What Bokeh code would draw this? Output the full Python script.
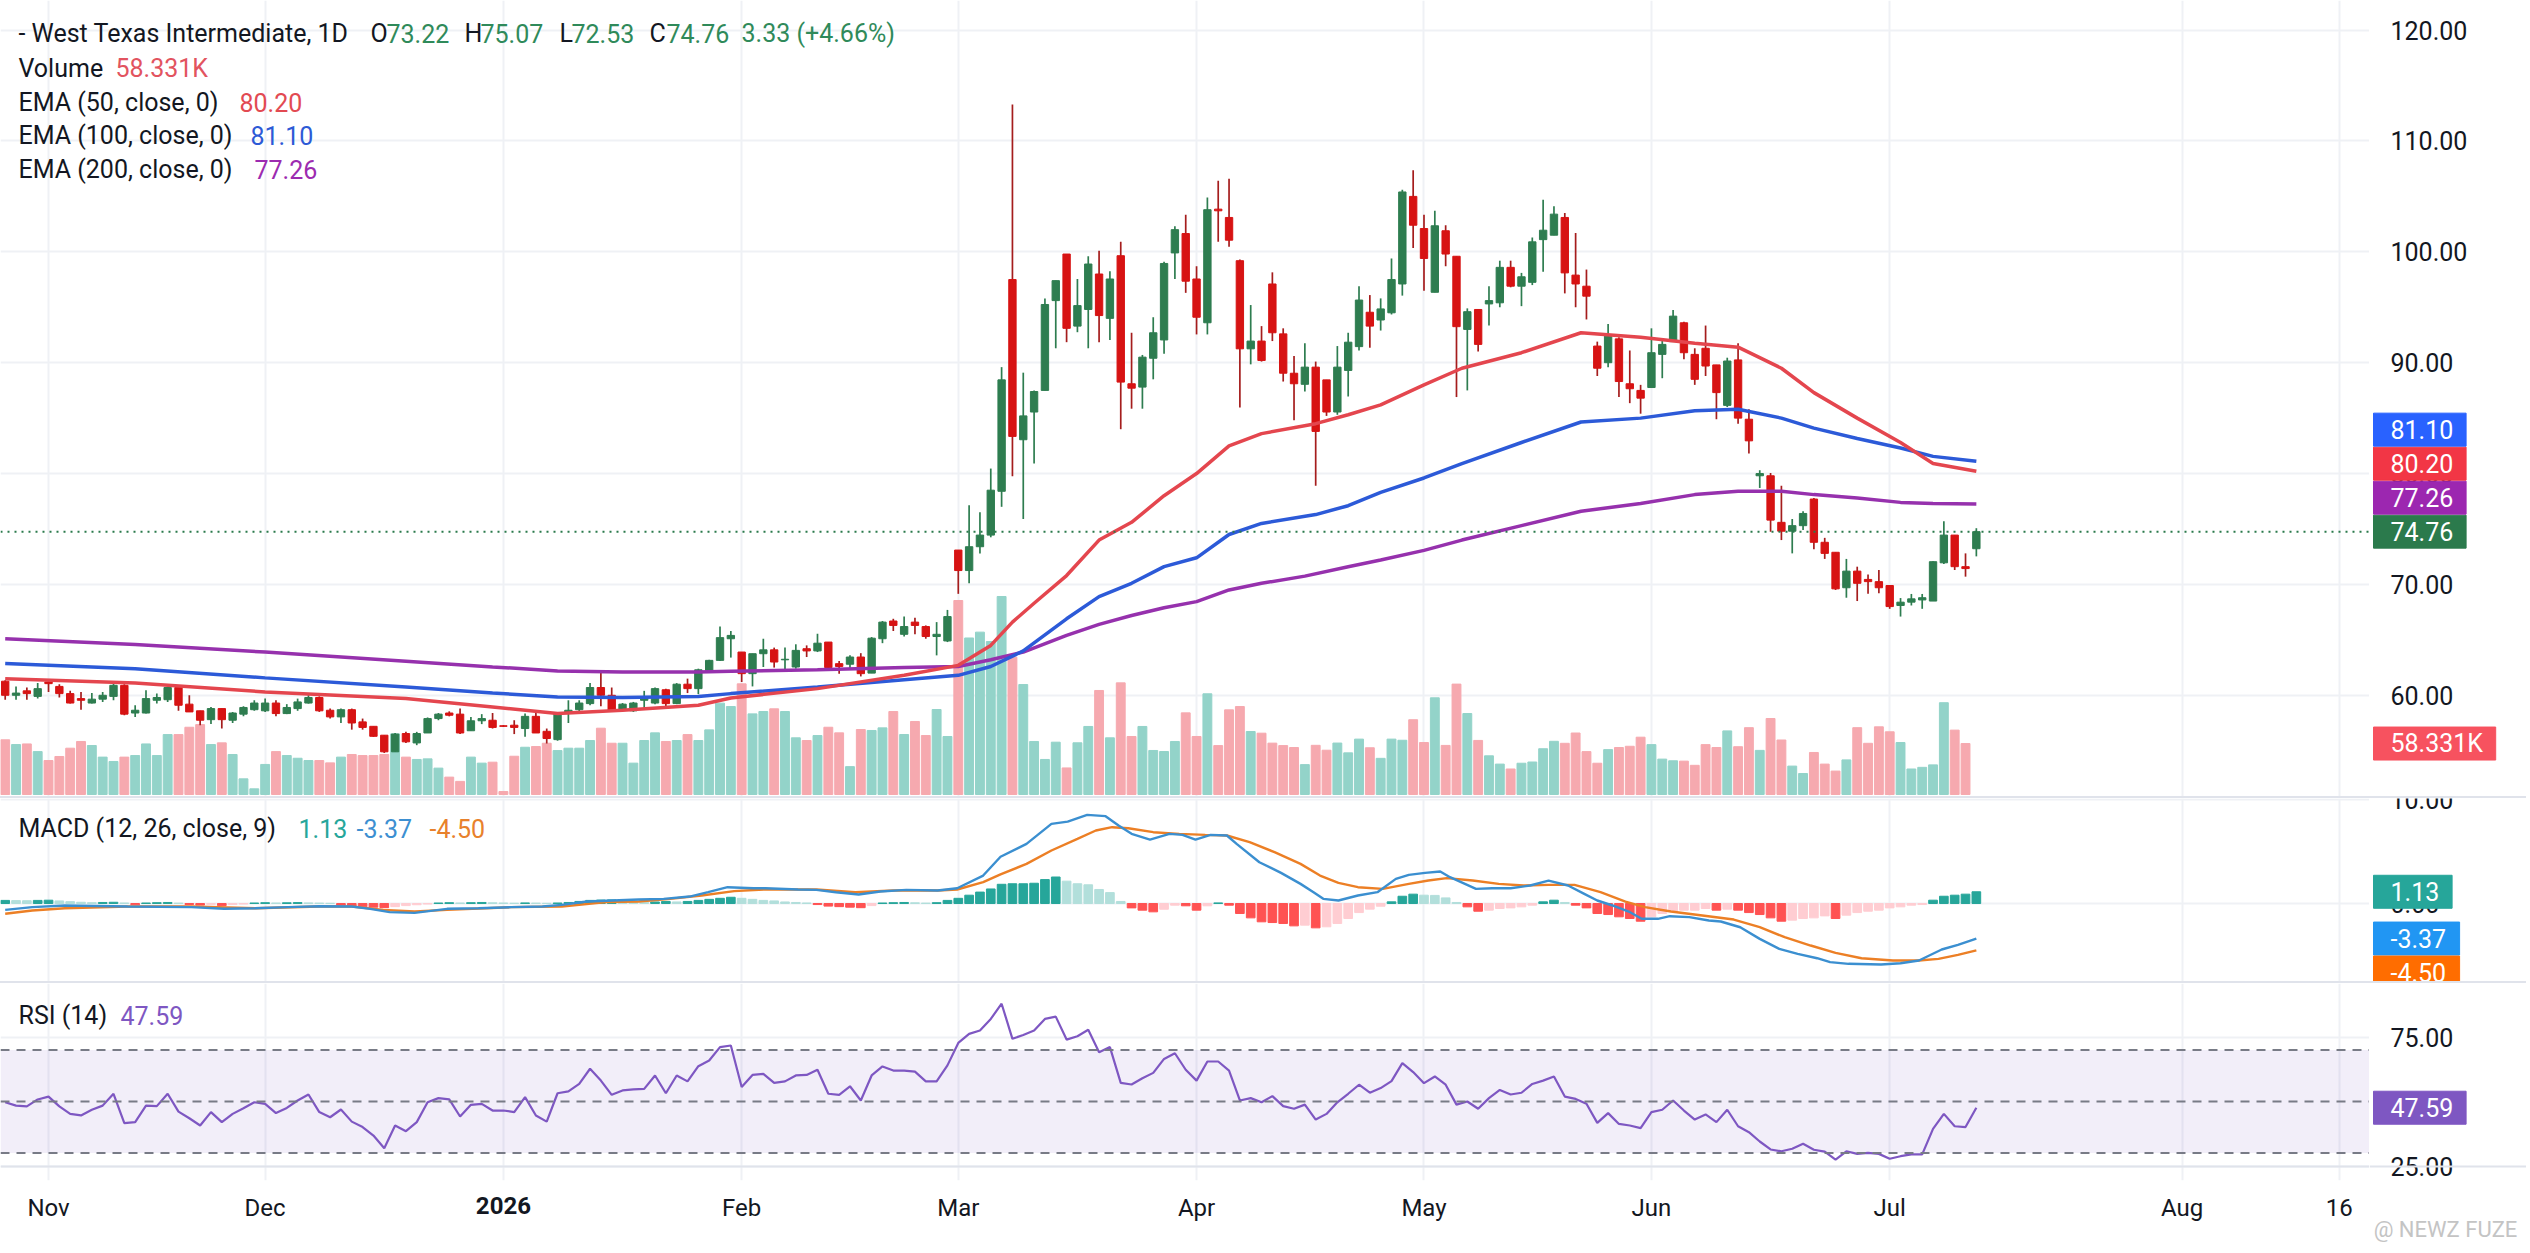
from bokeh.plotting import figure
from bokeh.layouts import column, row
from bokeh.models import (ColumnDataSource, Range1d, FixedTicker, Grid, Label, Span,
                          BoxAnnotation, Div, LinearAxis)
from bokeh.core.properties import value
from bokeh.embed import file_html
from bokeh.resources import INLINE

# ------------------------------------------------------------------ data
opens = [61.27,60.0,60.4,59.9,61.2,60.8,60.15,59.7,59.3,59.65,
         59.9,60.9,58.4,58.4,59.55,59.6,60.7,59.2,58.6,57.8,
         58.8,57.75,58.3,58.7,58.6,59.3,58.35,58.8,59.3,59.8,
         58.65,58.05,58.7,57.6,57.2,56.4,54.9,56.55,55.7,56.6,
         57.9,58.4,58.3,56.8,57.7,57.75,57.25,57.3,57.0,58.1,
         56.75,56.0,58.4,58.7,59.25,60.7,60.0,58.7,58.6,59.55,
         59.3,60.5,59.25,61.0,60.6,62.25,63.15,65.1,63.9,61.95,
         63.75,64.1,63.2,62.55,64.2,64.0,64.8,62.85,62.8,63.45,
         62.0,65.1,66.7,65.5,66.6,66.2,65.3,64.9,73.1,71.25,
         73.4,74.45,78.4,97.5,83.05,85.55,87.5,95.6,99.8,93.3,
         94.8,98.0,94.0,99.65,88.1,87.8,90.4,92.05,99.9,101.65,
         97.55,93.6,103.85,103.1,99.2,91.25,91.95,97.1,92.6,89.05,
         88.05,89.6,88.45,85.55,89.3,91.45,94.55,93.85,94.5,97.1,
         105.0,102.1,96.35,101.9,99.6,93.0,94.8,95.3,95.4,98.6,
         96.9,97.25,101.1,101.5,103.1,97.9,96.9,91.5,90.0,92.15,
         88.1,87.5,87.76,90.75,91.9,93.6,90.75,91.3,89.8,86.15,
         90.25,84.9,79.8,79.8,75.6,74.8,75.3,77.7,73.8,72.9,
         69.7,71.2,70.45,70.25,69.9,68.1,68.4,68.6,68.5,71.95,
         74.45,71.6,73.22]
highs = [61.35,60.8,60.7,61.1,61.35,61.0,60.4,60.3,60.2,60.3,
         61.1,61.0,59.1,60.45,60.15,60.8,60.7,60.0,58.6,58.95,
         58.8,58.5,59.0,59.55,59.7,59.55,59.2,59.7,60.1,59.9,
         58.8,58.8,58.8,57.9,57.2,56.4,56.6,56.7,56.7,58.0,
         58.4,58.55,58.8,58.05,58.3,58.4,57.3,57.75,58.35,58.65,
         57.0,58.4,59.55,59.55,61.1,62.1,60.7,59.3,59.4,60.4,
         60.7,60.6,61.1,61.5,62.4,63.2,66.2,65.8,63.9,63.75,
         65.1,64.3,64.3,64.6,64.5,65.55,64.8,63.1,63.6,63.8,
         65.25,66.7,66.9,67.1,67.0,66.3,66.6,67.7,73.1,77.15,
         76.5,80.45,89.6,113.3,89.1,87.5,95.8,97.4,99.8,97.55,
         99.6,100.1,98.25,100.9,92.7,90.7,94.1,99.1,102.3,103.35,
         98.7,104.9,106.4,106.6,99.3,95.2,93.3,98.15,93.1,90.6,
         91.75,90.1,88.45,91.5,92.7,96.9,96.1,95.8,99.4,105.6,
         107.35,103.35,103.7,102.4,99.6,94.9,94.8,96.9,99.2,99.2,
         98.1,101.3,104.7,104.1,103.5,101.7,98.4,91.9,93.5,92.3,
         91.1,88.0,93.1,92.1,94.75,93.7,91.3,93.35,89.8,90.45,
         91.75,85.8,80.3,80.05,78.9,75.9,76.6,77.8,74.2,72.9,
         72.3,71.6,70.9,71.3,69.95,68.77,69.14,69.14,72.1,75.7,
         74.45,72.8,75.07]
lows = [59.6,59.6,59.6,59.7,60.3,59.8,59.25,58.7,59.25,59.4,
        59.55,58.2,58.05,58.35,59.25,59.4,58.6,58.5,57.3,57.4,
        57.0,57.5,58.1,58.6,58.5,58.1,58.3,58.6,59.25,58.5,
        57.9,57.5,56.9,56.9,56.25,54.8,54.9,55.7,55.5,56.6,
        57.75,58.1,56.5,56.8,57.4,57.0,57.15,56.5,56.25,56.6,
        55.65,55.9,57.5,58.35,59.1,59.0,58.65,58.65,58.5,58.8,
        59.2,58.9,59.2,60.2,60.1,62.2,63.1,63.4,61.2,60.8,
        62.55,62.5,62.2,62.4,63.45,63.9,62.25,61.95,62.3,61.7,
        62.0,64.7,65.8,65.3,65.5,65.1,63.6,64.8,69.15,70.1,
        72.8,74.25,77.0,79.75,75.9,80.9,87.5,91.3,91.85,92.75,
        91.3,91.85,92.05,84.0,85.85,85.85,88.5,90.8,97.55,96.3,
        92.55,92.55,100.9,100.45,85.95,89.85,90.1,91.95,88.3,84.8,
        87.4,78.9,85.2,85.3,86.95,91.1,91.35,92.9,94.35,96.05,
        100.35,96.5,96.35,98.7,86.9,87.5,91.0,93.35,95.0,96.8,
        95.1,97.0,98.2,101.5,96.25,95.0,93.9,88.8,89.6,86.9,
        86.35,85.4,87.76,88.6,91.9,90.3,88.0,88.8,84.9,86.0,
        84.5,81.8,78.7,74.75,74.0,72.8,74.9,73.18,72.3,69.5,
        68.8,68.5,69.15,69.2,67.8,67.1,68.1,67.8,68.5,71.85,
        71.3,70.7,72.53]
closes = [60.0,60.2,60.15,60.6,61.05,60.15,59.3,59.55,59.65,60.0,
          60.9,58.3,58.65,59.7,59.8,60.7,59.1,58.5,57.75,58.8,
          57.8,58.4,58.9,59.3,59.3,58.35,58.9,59.4,59.8,58.6,
          58.05,58.7,57.5,57.1,56.3,54.9,56.5,55.8,56.55,57.9,
          58.3,58.2,56.6,57.7,57.9,57.1,57.2,57.1,58.1,56.6,
          56.1,58.35,58.65,59.3,60.7,60.0,58.65,59.2,59.3,59.8,
          60.6,59.25,61.0,60.6,62.3,63.15,65.2,65.4,61.95,63.75,
          64.1,63.0,63.25,64.05,64.0,64.7,62.5,62.6,63.45,61.95,
          65.15,66.6,66.3,66.2,66.3,65.3,65.5,67.1,71.25,73.4,
          74.45,78.5,88.45,83.35,85.2,87.4,95.25,97.4,93.1,95.15,
          98.9,94.25,97.55,88.25,87.7,90.5,92.7,98.95,102.0,97.35,
          94.1,103.8,103.7,101.05,91.25,91.95,90.2,92.7,89.05,88.1,
          89.6,83.8,85.55,89.6,91.85,95.65,93.3,94.85,97.5,105.4,
          102.4,99.4,102.35,99.8,93.25,94.6,91.65,95.6,98.6,96.9,
          97.75,100.9,101.95,103.4,98.1,97.1,96.0,89.5,92.4,88.3,
          87.65,86.8,90.9,91.65,94.2,90.9,88.5,89.7,87.3,90.15,
          85.0,82.95,80.0,75.8,74.8,75.3,76.4,73.8,72.8,69.6,
          71.2,70.1,70.25,69.7,68.0,68.4,68.7,68.8,72.05,74.45,
          71.6,71.43,74.76]
volumes_k = [62.6,57.2,57.9,49.1,38.9,43.5,53.0,60.7,56.1,42.8,
             37.8,42.8,44.6,57.9,44.6,68.6,68.6,77.0,80.0,57.2,
             59.1,45.8,17.9,6.5,34.4,49.1,44.6,41.5,38.9,38.9,
             36.2,42.8,45.8,44.6,44.6,45.8,69.4,42.8,40.1,40.8,
             30.2,19.9,15.0,42.8,35.9,37.0,3.4,43.8,54.1,54.9,
             58.7,50.3,53.0,53.0,61.8,75.9,58.7,58.7,35.9,61.8,
             70.6,60.7,61.8,68.6,61.8,74.0,104.6,100.7,126.7,92.3,
             95.0,98.1,95.0,64.9,61.8,67.5,77.0,70.6,31.9,74.4,
             73.3,76.3,95.0,68.7,83.6,67.5,97.3,66.4,222.1,179.2,
             185.9,175.1,226.7,157.2,125.9,60.7,40.1,59.9,30.4,59.2,
             77.9,119.1,64.9,127.8,66.4,77.9,50.4,49.2,60.7,93.5,
             66.4,115.3,56.0,96.9,100.7,72.1,70.2,58.8,56.0,53.8,
             34.2,56.3,50.7,58.9,47.7,63.4,53.5,41.4,63.4,62.1,
             85.6,59.5,110.7,56.2,126.4,92.7,61.9,44.3,34.8,29.2,
             35.8,37.2,52.4,60.9,58.6,70.4,49.1,35.8,51.4,53.8,
             55.2,65.6,57.1,40.5,38.6,38.2,33.4,57.1,53.8,72.8,
             54.7,76.5,50.5,87.0,62.4,32.5,24.0,48.1,34.8,26.8,
             39.6,76.5,58.6,77.5,71.8,59.5,29.2,31.1,33.9,105.1,
             73.7,58.331]

ema50_x = [0,12,24,37,45,51,57,64,67,75,83,88,91,93,95,98,101,104,107,110,113,116,121,124,127,131,134.5,140,145.5,151,156,160,164,167,171,175,178,182]
ema50 = [61.5,61.1,60.3,59.7,58.95,58.35,58.65,59.1,59.76,60.6,61.8,62.7,64.5,66.6,68.3,70.8,74.0,75.6,78.0,80.0,82.5,83.6,84.5,85.3,86.2,88.0,89.5,90.9,92.7,92.3,91.75,91.4,89.5,87.3,85.0,82.8,80.9,80.2]
ema100_x = [0,12,24,37,45,51,57,64,67,75,83,88,91,94,98,101,104,107,110,113,116,121,124,127,131,134.5,140,145.5,151,156,160,164,167,171,175,178,182]
ema100 = [62.86,62.4,61.57,60.75,60.2,59.85,59.8,59.9,60.15,60.75,61.4,61.8,62.6,64.0,66.9,68.9,70.1,71.6,72.4,74.5,75.5,76.3,77.1,78.3,79.6,80.9,82.8,84.65,85.0,85.66,85.8,85.0,84.1,83.16,82.3,81.55,81.1]
ema200_x = [0,12,24,37,45,51,57,64,67,75,83,88,91,94,98,101,104,107,110,113,116,120,124,127,131,134.5,140,145.5,151,156,160,164,167,171,175,178,182]
ema200 = [65.1,64.57,63.9,63.07,62.56,62.2,62.1,62.1,62.16,62.3,62.5,62.6,63.2,63.9,65.4,66.4,67.2,67.9,68.45,69.5,70.1,70.75,71.6,72.2,73.07,74.0,75.3,76.6,77.3,78.1,78.4,78.4,78.1,77.8,77.4,77.3,77.26]

macd_x = [0,2.5,5.5,11.3,17.2,20.2,23.1,26.1,29.0,32.0,33.7,35.5,37.8,40.8,43.7,46.7,49.6,51.4,53.7,56.1,
          58.5,60.8,63.2,64.9,66.7,69.1,70.2,73.2,74.9,76.7,78.8,80.8,83.2,86.1,87.9,90.3,91.9,94.3,96.6,98.1,
          99.9,101.6,102.8,104.0,105.7,107.5,108.7,109.9,111.3,112.8,113.7,115.8,117.8,119.6,120.8,121.7,123.1,124.9,126.7,128.4,
          129.6,131.1,132.5,133.4,135.8,137.3,139.0,140.8,142.5,144.3,145.8,147.0,148.4,149.9,151.1,152.6,153.7,155.5,157.3,158.4,
          160.2,162.0,163.8,165.5,167.3,168.5,170.2,173.2,175.0,176.7,178.8,180.3,182]
macd_line = [-0.61,-0.35,-0.19,-0.29,-0.35,-0.51,-0.45,-0.35,-0.26,-0.29,-0.51,-0.83,-0.90,-0.51,-0.45,-0.35,-0.29,-0.13,0.19,0.29,
             0.38,0.45,0.67,1.09,1.57,1.47,1.47,1.35,1.31,1.09,0.87,1.15,1.31,1.25,1.47,2.69,4.50,5.74,7.66,7.88,
             8.53,8.40,7.50,6.70,6.15,6.70,6.60,6.15,6.60,6.54,5.74,3.97,2.95,1.89,1.09,0.45,0.29,0.77,1.09,2.37,
             2.76,2.95,3.08,2.53,1.41,1.47,1.47,1.73,2.21,1.73,0.93,0.29,-0.19,-0.77,-1.47,-1.47,-1.22,-1.31,-1.63,-1.73,
             -2.28,-3.40,-4.36,-4.84,-5.26,-5.64,-5.80,-5.87,-5.74,-5.48,-4.42,-3.97,-3.37]
signal_x = [0,2.5,5.5,11.3,17.2,23.1,29.0,32.0,34.9,37.8,40.8,46.7,51.4,55.5,58.5,61.4,64.3,67.3,70.2,74.9,
            78.5,82.0,86.1,87.9,90.3,91.9,94.3,96.6,99.0,100.7,102.2,103.7,106.0,108.4,110.8,112.8,114.9,117.2,119.6,121.4,
            123.1,124.9,127.2,129.6,131.4,133.1,135.5,137.9,140.2,142.5,144.9,147.3,149.6,151.4,153.8,156.7,159.6,162.0,164.3,166.7,
            169.0,171.4,174.3,176.7,178.5,180.3,182]
signal_line = [-0.99,-0.67,-0.45,-0.29,-0.29,-0.45,-0.29,-0.29,-0.61,-0.77,-0.61,-0.35,-0.29,0.13,0.19,0.45,0.77,1.19,1.35,1.35,
               1.09,1.25,1.25,1.35,2.05,2.80,3.81,5.10,6.22,7.02,7.34,7.24,6.86,6.70,6.60,6.54,5.90,4.94,3.81,2.69,
               1.99,1.57,1.41,1.89,2.21,2.44,2.21,1.89,1.73,1.79,1.79,1.09,0.19,-0.35,-0.77,-1.15,-1.54,-2.28,-3.24,-4.04,
               -4.74,-5.26,-5.48,-5.48,-5.32,-4.94,-4.50]
macd_hist = [0.30,0.28,0.27,0.30,0.32,0.25,0.18,0.12,0.08,0.10,
             0.12,0.05,-0.12,0.05,0.08,0.10,0.04,-0.10,-0.15,-0.08,
             -0.20,-0.10,-0.05,0.05,0.08,0.05,0.07,0.09,0.06,0.04,
             0.02,-0.15,-0.30,-0.32,-0.35,-0.40,-0.30,-0.20,-0.12,-0.05,
             0.05,0.08,0.05,0.08,0.10,0.07,0.05,0.03,0.06,0.04,
             0.02,0.05,0.10,0.20,0.30,0.33,0.35,0.28,0.20,0.12,
             0.15,0.20,0.15,0.20,0.30,0.40,0.50,0.60,0.50,0.40,
             0.30,0.25,0.15,0.10,0.05,-0.10,-0.25,-0.30,-0.35,-0.40,
             -0.20,0.05,0.08,0.10,0.07,0.04,0.08,0.30,0.50,0.80,
             1.10,1.40,1.85,1.90,1.90,1.95,2.30,2.55,2.15,1.90,
             1.80,1.35,1.05,0.20,-0.42,-0.64,-0.80,-0.55,-0.16,-0.22,
             -0.64,-0.22,0.06,-0.16,-0.96,-1.38,-1.76,-1.83,-1.92,-2.15,
             -2.08,-2.34,-2.24,-1.92,-1.44,-0.87,-0.54,-0.26,0.16,0.70,
             0.90,0.80,0.78,0.54,0.10,-0.32,-0.74,-0.64,-0.48,-0.42,
             -0.32,-0.16,0.16,0.32,0.10,-0.16,-0.42,-0.96,-1.06,-1.28,
             -1.44,-1.70,-1.28,-0.96,-0.74,-0.64,-0.64,-0.48,-0.64,-0.54,
             -0.64,-0.87,-1.06,-1.38,-1.70,-1.60,-1.44,-1.38,-1.19,-1.44,
             -1.12,-0.87,-0.74,-0.64,-0.42,-0.32,-0.16,-0.10,0.32,0.70,
             0.80,0.90,1.13]
rsi = [49.7,48.4,48.1,50.8,51.9,48.1,45.2,44.6,46.8,48.4,
       53.0,41.6,42.0,48.4,48.2,53.0,46.1,43.5,40.7,45.9,
       42.0,45.2,47.4,49.7,49.1,45.5,47.5,50.4,52.7,45.9,
       43.9,46.9,42.2,40.1,36.8,31.9,40.7,38.5,42.0,49.7,
       51.3,50.8,44.2,48.7,49.1,46.5,46.5,45.9,51.7,44.6,
       42.2,53.2,53.9,56.8,62.7,58.1,52.6,54.3,54.7,54.9,
       60.1,53.2,60.1,57.8,63.7,65.9,71.1,71.7,55.6,60.3,
       60.7,57.2,57.8,60.1,60.3,62.3,53.0,52.6,55.9,50.4,
       60.1,63.6,62.0,62.0,61.6,57.8,57.8,64.0,72.7,76.2,
       77.5,82.0,87.9,74.3,75.8,77.5,82.0,82.9,74.0,75.3,
       77.8,69.1,71.1,57.2,56.6,59.0,61.1,66.5,68.7,62.3,
       58.1,65.5,65.5,62.0,50.4,51.3,49.7,52.1,48.2,47.2,
       48.8,43.0,45.2,49.7,53.0,56.5,53.4,55.2,57.9,64.9,
       61.4,57.1,59.7,56.5,48.8,50.0,47.2,51.3,54.5,52.7,
       53.4,56.8,58.1,59.7,51.9,51.0,49.1,41.7,45.5,41.3,
       40.7,39.7,45.9,46.8,50.4,46.5,43.0,45.0,42.0,46.8,
       40.4,38.1,34.5,31.4,30.7,31.7,33.6,31.3,30.6,27.5,
       30.7,29.7,30.1,29.7,27.8,28.8,29.5,29.5,39.4,45.2,
       40.4,40.1,47.59]

month_ticks = [4, 24, 46, 68, 88, 110, 131, 152, 174, 201, 215.5]
month_labels = ["Nov", "Dec", "2026", "Feb", "Mar", "Apr", "May", "Jun", "Jul", "Aug", "16"]
year_label = "2026"
price_ticks = [60, 70, 80, 90, 100, 110, 120]
macd_ticks = [0, 10]
rsi_ticks = [25, 50, 75]
rsi_levels = [70, 50, 30]
watermark = "@ NEWZ FUZE"

# ------------------------------------------------------------------ style / layout
FONT = "Roboto"
FRAME_W = 2369
AX_W = 157
X_RANGE = Range1d(-0.434, 218.3)
MAIN_H, MACD_H = 796, 183
RSI_FRAME, RSI_BOTTOM = 197, 66
RSI_H = RSI_FRAME + RSI_BOTTOM
P_TOP, P_BOT = 122.67, 50.87
V_TOP, V_BOT = 909.1, -2.3
M_TOP, M_BOT = 10.10, -7.50
R_TOP, R_BOT = 95.74, 19.38
MACD_PAGE0, RSI_PAGE0 = 798, 983
RSI_PANE_END = 1166
GRID = "#eff1f5"
SEPC = "#e0e3eb"
TXT = "#131722"
UP, DN, DN_WICK = "#2e7d50", "#d71313", "#a51d1d"
VOL_UP, VOL_DN = "#93d3c9", "#f6a9af"
C50, C100, C200 = "#e4464e", "#2c5ad8", "#9631ad"
TAG50, TAG100, TAG200, TAGPX, TAGVOL = "#f23645", "#2962ff", "#9c27b0", "#2b7a4c", "#f7525f"
LEG = "25px"
AXF = "25px"
XLF = "24px"


def to_val(top, bot, h, px):
    return top - px / h * (top - bot)


def to_px(top, bot, h, v):
    return (top - v) / (top - bot) * h


def pane_fig(h, y0, y1, ticks, xaxis=False, bottom=0):
    f = figure(width=FRAME_W, height=h, x_range=X_RANGE, y_range=Range1d(y0, y1),
               output_backend="svg", toolbar_location=None,
               x_axis_location="below" if xaxis else None, y_axis_location=None,
               min_border=0, min_border_bottom=bottom)
    f.outline_line_color = None
    f.background_fill_color = "white"
    f.border_fill_color = "white"
    if len(f.xgrid) > 0:
        f.xgrid.ticker = FixedTicker(ticks=month_ticks)
        f.xgrid.grid_line_color = GRID
        f.xgrid.grid_line_width = 2
    else:
        f.add_layout(Grid(dimension=0, ticker=FixedTicker(ticks=month_ticks),
                          grid_line_color=GRID, grid_line_width=2))
    if len(f.ygrid) > 0:
        f.ygrid.ticker = FixedTicker(ticks=ticks)
        f.ygrid.grid_line_color = GRID
        f.ygrid.grid_line_width = 2
    else:
        f.add_layout(Grid(dimension=1, ticker=FixedTicker(ticks=ticks),
                          grid_line_color=GRID, grid_line_width=2))
    return f


def axis_fig(h, y_range, xaxis=False, bottom=0):
    a = figure(width=AX_W, height=h, x_range=Range1d(0, AX_W), y_range=y_range,
               output_backend="svg", toolbar_location=None,
               x_axis_location="below" if xaxis else None, y_axis_location=None,
               min_border=0, min_border_bottom=bottom)
    a.outline_line_color = None
    a.background_fill_color = "white"
    a.border_fill_color = "white"
    for g in list(a.xgrid) + list(a.ygrid):
        g.visible = False
    return a


def style_xaxis(ax, size, color, standoff, bold=False):
    ax.axis_line_color = None
    ax.major_tick_line_color = None
    ax.minor_tick_line_color = None
    ax.major_tick_out = 0
    ax.major_tick_in = 0
    ax.major_label_standoff = standoff
    ax.major_label_text_font = FONT
    ax.major_label_text_font_size = size
    ax.major_label_text_color = color
    if bold:
        ax.major_label_text_font_style = "bold"


def draw_ticks(a, ticks):
    a.text(x=[21] * len(ticks), y=ticks, text=[f"{t:.2f}" for t in ticks],
           text_font=value(FONT), text_font_size=value(AXF), text_color=TXT,
           text_align="left", text_baseline="middle")


CW = {".": 6.6, "-": 7.5, "K": 15.6}


def tag_w(s):
    return 17 + 13 + sum(CW.get(ch, 14.0) for ch in s)


def draw_tags(a, ys, texts, colors):
    ws = [tag_w(t) for t in texts]
    a.rect(x=[4 + w / 2 for w in ws], y=ys, width=ws, height=33, height_units="screen",
           fill_color=colors, line_color=colors)
    a.text(x=[21] * len(ys), y=ys, text=texts, text_font=value(FONT), text_font_size=value(AXF),
           text_color="white", text_align="left", text_baseline="middle")


def add_text(fig, x_ref, y, text, color, size=LEG):
    fig.add_layout(Label(x=x_ref, x_units="screen", y=y, y_units="data", text=text,
                         text_color=color, text_font=FONT, text_font_size=size,
                         text_baseline="middle", text_align="left"))


# ------------------------------------------------------------------ main pane
p = pane_fig(MAIN_H, P_BOT, P_TOP, price_ticks)
p.extra_y_ranges = {"vol": Range1d(V_BOT, V_TOP)}

n = len(closes)
idx = list(range(n))
is_up = [closes[i] >= opens[i] for i in idx]

vx = list(range(len(volumes_k)))
p.vbar(x=vx, top=volumes_k, bottom=0, width=0.82, y_range_name="vol",
       color=[VOL_UP if is_up[i] else VOL_DN for i in vx])

cs = ColumnDataSource(dict(
    x=idx, h=highs, l=lows,
    top=[max(o, c) for o, c in zip(opens, closes)],
    bot=[min(o, c) for o, c in zip(opens, closes)],
    fill=[UP if u else DN for u in is_up],
    wick=[UP if u else DN_WICK for u in is_up]))
p.segment(x0="x", y0="l", x1="x", y1="h", source=cs, line_color="wick", line_width=1.7)
p.vbar(x="x", top="top", bottom="bot", width=0.68, source=cs,
       fill_color="fill", line_color="fill", line_width=1)

p.line(ema200_x, ema200, line_color=C200, line_width=3.5)
p.line(ema100_x, ema100, line_color=C100, line_width=3.5)
p.line(ema50_x, ema50, line_color=C50, line_width=3.5)

p.add_layout(Span(location=closes[-1], dimension="width", line_color=TAGPX,
                  line_dash="2 5", line_width=2))

GREEN_T = "#2f8a5a"
chg = closes[-1] - closes[-2]
pct = chg / closes[-2] * 100
row_y = [33, 68, 102, 135, 169]
rows = [
    [("- West Texas Intermediate, 1D", 18, TXT), ("O", 370, TXT), (f"{opens[-1]:.2f}", 386, GREEN_T),
     ("H", 464, TXT), (f"{highs[-1]:.2f}", 480, GREEN_T), ("L", 559, TXT), (f"{lows[-1]:.2f}", 571, GREEN_T),
     ("C", 649, TXT), (f"{closes[-1]:.2f}", 666, GREEN_T), (f"{chg:.2f} (+{pct:.2f}%)", 741, GREEN_T)],
    [("Volume", 18, TXT), (f"{volumes_k[-1]:.3f}K", 115, "#e2545f")],
    [("EMA (50, close, 0)", 18, TXT), (f"{ema50[-1]:.2f}", 239, "#e24a52")],
    [("EMA (100, close, 0)", 18, TXT), (f"{ema100[-1]:.2f}", 250, "#2d5ad6")],
    [("EMA (200, close, 0)", 18, TXT), (f"{ema200[-1]:.2f}", 254, "#9c2bb0")],
]
for ry, parts in zip(row_y, rows):
    for text, xr, col in parts:
        add_text(p, xr, to_val(P_TOP, P_BOT, MAIN_H, ry), text, col)

pa = axis_fig(MAIN_H, p.y_range)
draw_ticks(pa, price_ticks)
tags = sorted([(closes[-1], TAGPX), (ema200[-1], TAG200), (ema50[-1], TAG50), (ema100[-1], TAG100)])
ys, tx, cl = [], [], []
prev = None
for v, col in tags:
    px = to_px(P_TOP, P_BOT, MAIN_H, v)
    if prev is not None:
        px = min(px, prev - 34)
    prev = px
    ys.append(to_val(P_TOP, P_BOT, MAIN_H, px))
    tx.append(f"{v:.2f}")
    cl.append(col)
vol_px = to_px(V_TOP, V_BOT, MAIN_H, volumes_k[-1])
ys.append(to_val(P_TOP, P_BOT, MAIN_H, vol_px))
tx.append(f"{volumes_k[-1]:.3f}K")
cl.append(TAGVOL)
draw_tags(pa, ys, tx, cl)

# ------------------------------------------------------------------ MACD pane
m = pane_fig(MACD_H, M_BOT, M_TOP, macd_ticks)
hist_cols = []
for i, hv in enumerate(macd_hist):
    pv = macd_hist[i - 1] if i > 0 else hv
    if hv >= 0:
        hist_cols.append("#26a69a" if hv >= pv else "#b2dfdb")
    else:
        hist_cols.append("#ff5252" if hv < pv else "#ffcdd2")
m.vbar(x=list(range(len(macd_hist))), top=macd_hist, bottom=0, width=0.8, color=hist_cols)
m.line(signal_x, signal_line, line_color="#ec7f25", line_width=2.4)
m.line(macd_x, macd_line, line_color="#3b8fd0", line_width=2.4)

my = to_val(M_TOP, M_BOT, MACD_H, 828 - MACD_PAGE0)
add_text(m, 18, my, "MACD (12, 26, close, 9)", TXT)
add_text(m, 298, my, f"{macd_hist[-1]:.2f}", "#26a69a")
add_text(m, 356, my, f"{macd_line[-1]:.2f}", "#3d8fd1")
add_text(m, 429, my, f"{signal_line[-1]:.2f}", "#e8812c")

ma = axis_fig(MACD_H, m.y_range)
draw_ticks(ma, macd_ticks)
mtags = sorted([(macd_hist[-1], "#26a69a"), (macd_line[-1], "#2196f3"), (signal_line[-1], "#ff6d00")],
               reverse=True)
ys, tx, cl = [], [], []
prev = None
for v, col in mtags:
    px = to_px(M_TOP, M_BOT, MACD_H, v)
    if prev is not None:
        px = max(px, prev + 34)
    prev = px
    ys.append(to_val(M_TOP, M_BOT, MACD_H, px))
    tx.append(f"{v:.2f}")
    cl.append(col)
draw_tags(ma, ys, tx, cl)

# ------------------------------------------------------------------ RSI pane
pane_end_val = to_val(R_TOP, R_BOT, RSI_FRAME, RSI_PANE_END - RSI_PAGE0)
r = pane_fig(RSI_H, R_BOT, R_TOP, [25, 75], xaxis=True, bottom=RSI_BOTTOM)
r.add_layout(BoxAnnotation(bottom=rsi_levels[-1], top=rsi_levels[0], fill_color="#7e57c2",
                           fill_alpha=0.1, line_color=None, level="underlay"))
for lv in rsi_levels:
    r.add_layout(Span(location=lv, dimension="width", line_color="#787b86",
                      line_dash="9 7", line_width=2))
r.add_layout(Span(location=pane_end_val, dimension="width", line_color=SEPC, line_width=2))
r.line(list(range(len(rsi))), rsi, line_color="#7e57c2", line_width=2.2)

xa = r.xaxis[0]
xa.ticker = FixedTicker(ticks=month_ticks)
xa.major_label_overrides = {t: ("" if lab == year_label else lab) for t, lab in zip(month_ticks, month_labels)}
style_xaxis(xa, XLF, TXT, 13)
yt = [t for t, lab in zip(month_ticks, month_labels) if lab == year_label]
xb = LinearAxis(ticker=FixedTicker(ticks=yt), major_label_overrides={t: year_label for t in yt})
style_xaxis(xb, XLF, TXT, -28, bold=True)
r.add_layout(xb, "below")

ry_leg = to_val(R_TOP, R_BOT, RSI_FRAME, 1015 - RSI_PAGE0)
add_text(r, 18, ry_leg, "RSI (14)", TXT)
add_text(r, 120, ry_leg, f"{rsi[-1]:.2f}", "#7e57c2")

ra = axis_fig(RSI_H, r.y_range, xaxis=True, bottom=RSI_BOTTOM)
ra.add_layout(Span(location=pane_end_val, dimension="width", line_color=SEPC, line_width=2))
draw_ticks(ra, rsi_ticks)
draw_tags(ra, [rsi[-1]], [f"{rsi[-1]:.2f}"], ["#7e57c2"])
wa = ra.xaxis[0]
wa.ticker = FixedTicker(ticks=[76])
wa.major_label_overrides = {76: watermark}
style_xaxis(wa, "22px", "#c4c4c4", 36)


def sep():
    return Div(text="", width=FRAME_W + AX_W, height=2, margin=(0, 0, 0, 0),
               styles={"background-color": SEPC})


layout = column(row(p, pa, spacing=0), sep(), row(m, ma, spacing=0), sep(),
                row(r, ra, spacing=0), spacing=0)
open("out.html", "w").write(file_html(layout, INLINE))
